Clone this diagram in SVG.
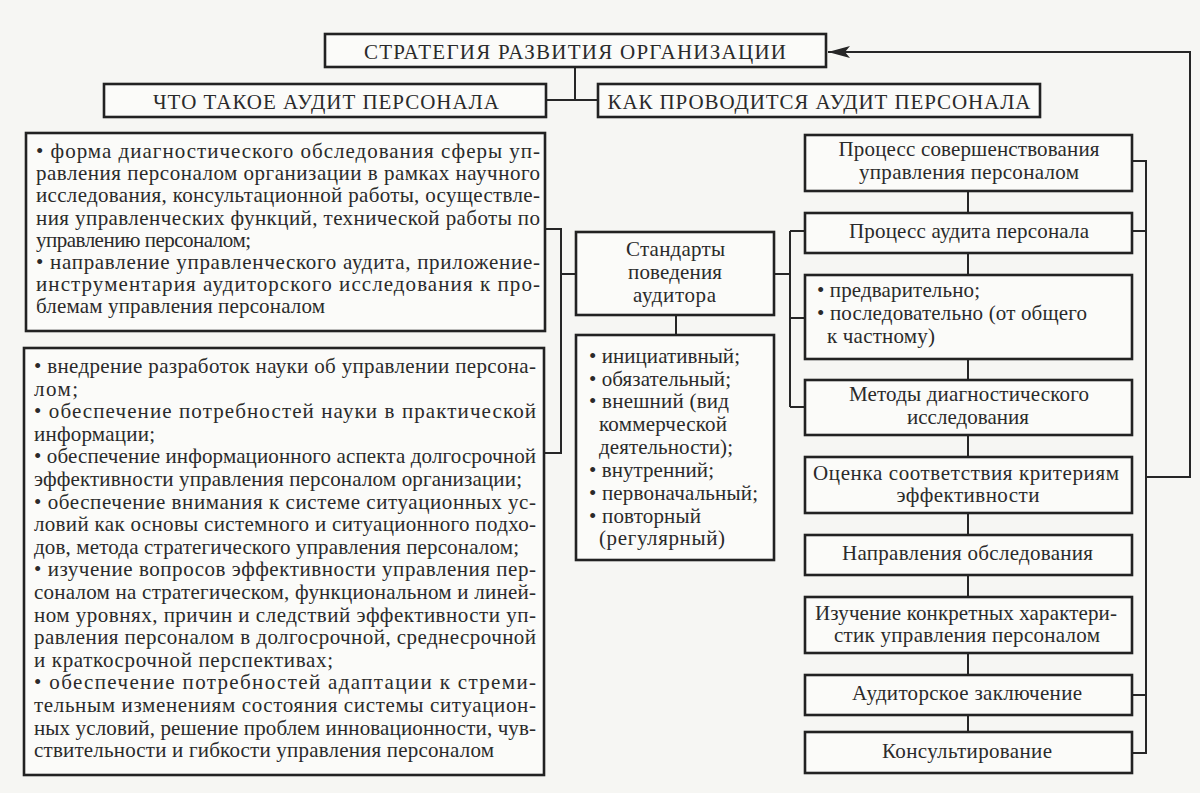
<svg xmlns="http://www.w3.org/2000/svg" width="1200" height="793" viewBox="0 0 1200 793" font-family="'Liberation Serif', 'Times New Roman', 'DejaVu Serif', serif">
<style>
.bg{fill:#f6f6f3}
.box{fill:#fbfbf9;stroke:#222;stroke-width:2.6}
.ln{fill:none;stroke:#262626;stroke-width:2}
.t{font-family:'Liberation Serif','Times New Roman','DejaVu Serif',serif;font-size:21px;fill:#2a2a2a}
.c{text-anchor:middle}
.h{font-size:21px}
</style>
<defs>
<marker id="arr" markerWidth="24" markerHeight="14" refX="22" refY="6" orient="auto" markerUnits="userSpaceOnUse" viewBox="0 0 24 12">
<path d="M22,6 L0,0 L5,6 L0,12 Z" fill="#262626"/>
</marker>
</defs>
<rect class="bg" x="0" y="0" width="1200" height="793"/>

<g id="connectors">
<path class="ln" d="M575,67 V100 M546,100 H598"/>
<path class="ln" d="M545,229 H561 V453 H545 M561,274 H576"/>
<path class="ln" d="M774,274 H790 M790,231 V407 M790,231 H805 M790,318 H805 M790,407 H805"/>
<path class="ln" d="M676,315 V335"/>
<path class="ln" d="M968,191 V213 M968,253 V275 M968,359 V380 M968,435 V457 M968,513 V535 M968,575 V597 M968,653 V675 M968,715 V732"/>
<path class="ln" d="M1132,161 H1146 V753 H1132 M1132,231 H1146 M1132,695 H1146"/>
<path class="ln" d="M1146,477 H1190 V52 H828" marker-end="url(#arr)"/>
</g>

<g class="t">
<g id="strategy">
<rect class="box" x="325" y="34" width="501" height="33"/>
<text class="c h" x="575" y="59" textLength="422" lengthAdjust="spacing">СТРАТЕГИЯ РАЗВИТИЯ ОРГАНИЗАЦИИ</text>
</g>

<g id="what">
<rect class="box" x="104" y="84" width="442" height="33"/>
<text class="c h" x="326" y="109" textLength="346" lengthAdjust="spacing">ЧТО ТАКОЕ АУДИТ ПЕРСОНАЛА</text>
</g>

<g id="how">
<rect class="box" x="598" y="84" width="442" height="33"/>
<text class="c h" x="819" y="109" textLength="423" lengthAdjust="spacing">КАК ПРОВОДИТСЯ АУДИТ ПЕРСОНАЛА</text>
</g>

<g id="definition">
<rect class="box" x="26" y="133" width="519" height="198"/>
<text x="36" y="158" textLength="504" lengthAdjust="spacing">• форма диагностического обследования сферы уп-</text>
<text x="36" y="180" textLength="504" lengthAdjust="spacing">равления персоналом организации в рамках научного</text>
<text x="36" y="202" textLength="504" lengthAdjust="spacing">исследования, консультационной работы, осуществле-</text>
<text x="36" y="225" textLength="504" lengthAdjust="spacing">ния управленческих функций, технической работы по</text>
<text x="36" y="247" textLength="215" lengthAdjust="spacing">управлению персоналом;</text>
<text x="36" y="269" textLength="504" lengthAdjust="spacing">• направление управленческого аудита, приложение-</text>
<text x="36" y="291" textLength="504" lengthAdjust="spacing">инструментария аудиторского исследования к про-</text>
<text x="36" y="313" textLength="289" lengthAdjust="spacing">блемам управления персоналом</text>
</g>

<g id="goals">
<rect class="box" x="24" y="348" width="520" height="427"/>
<text x="34" y="373" textLength="502" lengthAdjust="spacing">• внедрение разработок науки об управлении персона-</text>
<text x="34" y="395.6" textLength="44" lengthAdjust="spacing">лом;</text>
<text x="34" y="418.2" textLength="502" lengthAdjust="spacing">• обеспечение потребностей науки в практической</text>
<text x="34" y="440.8" textLength="121" lengthAdjust="spacing">информации;</text>
<text x="34" y="463.4" textLength="502" lengthAdjust="spacing">• обеспечение информационного аспекта долгосрочной</text>
<text x="34" y="486" textLength="488" lengthAdjust="spacing">эффективности управления персоналом организации;</text>
<text x="34" y="508.6" textLength="502" lengthAdjust="spacing">• обеспечение внимания к системе ситуационных ус-</text>
<text x="34" y="531.2" textLength="502" lengthAdjust="spacing">ловий как основы системного и ситуационного подхо-</text>
<text x="34" y="553.8" textLength="485" lengthAdjust="spacing">дов, метода стратегического управления персоналом;</text>
<text x="34" y="576.4" textLength="502" lengthAdjust="spacing">• изучение вопросов эффективности управления пер-</text>
<text x="34" y="599" textLength="502" lengthAdjust="spacing">соналом на стратегическом, функциональном и линей-</text>
<text x="34" y="621.6" textLength="502" lengthAdjust="spacing">ном уровнях, причин и следствий эффективности уп-</text>
<text x="34" y="644.2" textLength="502" lengthAdjust="spacing">равления персоналом в долгосрочной, среднесрочной</text>
<text x="34" y="666.8" textLength="299" lengthAdjust="spacing">и краткосрочной перспективах;</text>
<text x="34" y="689.4" textLength="502" lengthAdjust="spacing">• обеспечение потребностей адаптации к стреми-</text>
<text x="34" y="712" textLength="502" lengthAdjust="spacing">тельным изменениям состояния системы ситуацион-</text>
<text x="34" y="734.6" textLength="502" lengthAdjust="spacing">ных условий, решение проблем инновационности, чув-</text>
<text x="34" y="757.2" textLength="460" lengthAdjust="spacing">ствительности и гибкости управления персоналом</text>
</g>

<g id="standards">
<rect class="box" x="576" y="232" width="198" height="83"/>
<text class="c" x="675.5" y="256" textLength="99" lengthAdjust="spacing">Стандарты</text>
<text class="c" x="675" y="279" textLength="94" lengthAdjust="spacing">поведения</text>
<text class="c" x="674.5" y="302" textLength="83" lengthAdjust="spacing">аудитора</text>
</g>

<g id="types">
<rect class="box" x="576" y="335" width="198" height="225"/>
<text x="589" y="363" textLength="151" lengthAdjust="spacing">• инициативный;</text>
<text x="589" y="386" textLength="142" lengthAdjust="spacing">• обязательный;</text>
<text x="589" y="408" textLength="140" lengthAdjust="spacing">• внешний (вид</text>
<text x="599" y="431" textLength="128" lengthAdjust="spacing">коммерческой</text>
<text x="599" y="454" textLength="134" lengthAdjust="spacing">деятельности);</text>
<text x="589" y="477" textLength="125" lengthAdjust="spacing">• внутренний;</text>
<text x="589" y="500" textLength="169" lengthAdjust="spacing">• первоначальный;</text>
<text x="589" y="523" textLength="112" lengthAdjust="spacing">• повторный</text>
<text x="599" y="545" textLength="126" lengthAdjust="spacing">(регулярный)</text>
</g>

<g id="improve">
<rect class="box" x="805" y="135" width="327" height="56"/>
<text class="c" x="969" y="156" textLength="261" lengthAdjust="spacing">Процесс совершенствования</text>
<text class="c" x="969" y="178.5" textLength="220" lengthAdjust="spacing">управления персоналом</text>
</g>

<g id="process">
<rect class="box" x="805" y="213" width="327" height="40"/>
<text class="c" x="969" y="238" textLength="240" lengthAdjust="spacing">Процесс аудита персонала</text>
</g>

<g id="order">
<rect class="box" x="805" y="275" width="327" height="84"/>
<text x="817" y="297" textLength="163" lengthAdjust="spacing">• предварительно;</text>
<text x="817" y="320" textLength="270" lengthAdjust="spacing">• последовательно (от общего</text>
<text x="827" y="343" textLength="108" lengthAdjust="spacing">к частному)</text>
</g>

<g id="methods">
<rect class="box" x="805" y="380" width="327" height="55"/>
<text class="c" x="969" y="401" textLength="240" lengthAdjust="spacing">Методы диагностического</text>
<text class="c" x="968" y="423.5" textLength="122" lengthAdjust="spacing">исследования</text>
</g>

<g id="assessment">
<rect class="box" x="805" y="457" width="327" height="56"/>
<text class="c" x="966" y="480" textLength="306" lengthAdjust="spacing">Оценка соответствия критериям</text>
<text class="c" x="968" y="502" textLength="143" lengthAdjust="spacing">эффективности</text>
</g>

<g id="directions">
<rect class="box" x="805" y="535" width="327" height="40"/>
<text class="c" x="967.5" y="560" textLength="251" lengthAdjust="spacing">Направления обследования</text>
</g>

<g id="study">
<rect class="box" x="805" y="597" width="327" height="56"/>
<text class="c" x="966" y="620" textLength="302" lengthAdjust="spacing">Изучение конкретных характери-</text>
<text class="c" x="967" y="642" textLength="266" lengthAdjust="spacing">стик управления персоналом</text>
</g>

<g id="conclusion">
<rect class="box" x="805" y="675" width="327" height="40"/>
<text class="c" x="967" y="700" textLength="230" lengthAdjust="spacing">Аудиторское заключение</text>
</g>

<g id="consulting">
<rect class="box" x="805" y="732" width="327" height="41"/>
<text class="c" x="967" y="758" textLength="170" lengthAdjust="spacing">Консультирование</text>
</g>
</g>
</svg>
